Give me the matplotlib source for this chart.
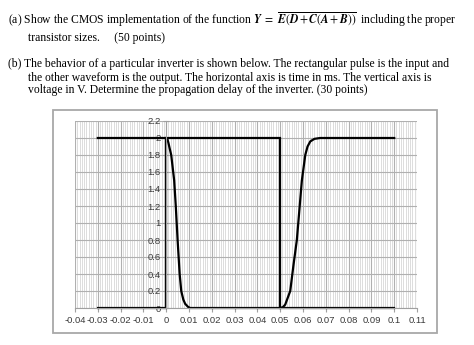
# -*- coding: utf-8 -*-

import numpy as np
import matplotlib
matplotlib.use('Agg')
import matplotlib.pyplot as plt
from matplotlib.patches import Rectangle
from matplotlib.ticker import MultipleLocator, FuncFormatter

# input pulse (V vs ms)
t_in = [-0.03, 0.0, 0.0, 0.05, 0.05, 0.1]
v_in = [0, 0, 2, 2, 0, 0]

# inverter output
t_out = [-0.03, 0.0, 0.0003, 0.0006, 0.001, 0.0015, 0.0022, 0.0035, 0.0042, 0.005,
         0.0059, 0.0066, 0.0075, 0.0083, 0.0095, 0.0105,
         0.05, 0.0512, 0.0522, 0.0544, 0.0558, 0.0573, 0.0595, 0.061, 0.062, 0.0632,
         0.065, 0.0675, 0.1]
v_out = [2, 2, 1.995, 1.98, 1.94, 1.88, 1.8, 1.5, 1.2, 0.8,
         0.4, 0.2, 0.1, 0.05, 0.015, 0,
         0, 0.01, 0.04, 0.2, 0.5, 0.8, 1.5, 1.8, 1.9, 1.96,
         1.99, 2, 2]

x_ticks = [-0.04, -0.03, -0.02, -0.01, 0, 0.01, 0.02, 0.03, 0.04, 0.05,
           0.06, 0.07, 0.08, 0.09, 0.1, 0.11]
y_ticks = [0, 0.2, 0.4, 0.6, 0.8, 1, 1.2, 1.4, 1.6, 1.8, 2, 2.2]

W, H = 474, 345
fig = plt.figure(figsize=(W / 100, H / 100), dpi=100)
plt.rcParams['mathtext.fontset'] = 'stix'

serif = 'Liberation Serif'
fs = 8.4


def px(x, y):
    return x / W, 1 - y / H


# question text
line1 = (r"(a) Show the CMOS implementation of the function "
         r"$\mathbfit{Y}\ =\ \overline{\mathbfit{E}\left(\mathbfit{D}+\mathbfit{C}"
         r"(\mathbfit{A}+\mathbfit{B})\right)}\;$ including the proper")
fig.text(*px(8, 24), line1, family=serif, fontsize=fs, va='baseline')
fig.text(*px(28, 40.5), "transistor sizes.     (50 points)", family=serif,
         fontsize=fs, va='baseline')
fig.text(*px(8, 66.5), "(b) The behavior of a particular inverter is shown below. "
         "The rectangular pulse is the input and", family=serif, fontsize=fs, va='baseline')
fig.text(*px(28, 80.5), "the other waveform is the output. The horizontal axis is time "
         "in ms. The vertical axis is", family=serif, fontsize=fs, va='baseline')
fig.text(*px(28, 93.5), "voltage in V. Determine the propagation delay of the inverter. "
         "(30 points)", family=serif, fontsize=fs, va='baseline')

# chart frame
fig.patches.append(Rectangle(px(53, 333), (437 - 53) / W, (333 - 110) / H,
                             transform=fig.transFigure, fill=False,
                             ec='#a8a8a8', lw=1.3))

ax = fig.add_axes([75 / W, 1 - 308 / H, 342 / W, 187 / H])
ax.set_xlim(-0.04, 0.11)
ax.set_ylim(0, 2.2)

ax.xaxis.set_minor_locator(MultipleLocator(0.001))
ax.set_xticks(x_ticks)
ax.set_yticks(y_ticks)

fmt = FuncFormatter(lambda v, p: '%g' % round(v, 4) if abs(v) > 1e-9 else '0')
ax.xaxis.set_major_formatter(fmt)
ax.yaxis.set_major_formatter(fmt)

ax.grid(True, which='minor', axis='x', color='#cfcfcf', lw=0.5)
ax.grid(True, which='major', axis='both', color='#b0b0b0', lw=0.8)
ax.set_axisbelow(True)

for s in ['top', 'right']:
    ax.spines[s].set_visible(False)
ax.spines['left'].set_position(('data', 0))
ax.spines['left'].set_color('#a0a0a0')
ax.spines['bottom'].set_color('#a0a0a0')

ax.tick_params(axis='y', which='major', direction='inout', length=4, color='#a0a0a0',
               labelsize=6.8, labelcolor='#3a3a3a', pad=2)
ax.tick_params(axis='x', which='major', direction='out', length=3, color='#a0a0a0',
               labelsize=6.8, labelcolor='#3a3a3a', pad=3)
ax.tick_params(axis='x', which='minor', length=0)
for lab in ax.get_xticklabels() + ax.get_yticklabels():
    lab.set_family('Liberation Sans')

ax.plot(t_in, v_in, color='black', lw=1.6, solid_joinstyle='miter', clip_on=False)
ax.plot(t_out, v_out, color='black', lw=1.6, clip_on=False)

plt.savefig('out.png', dpi=100)
